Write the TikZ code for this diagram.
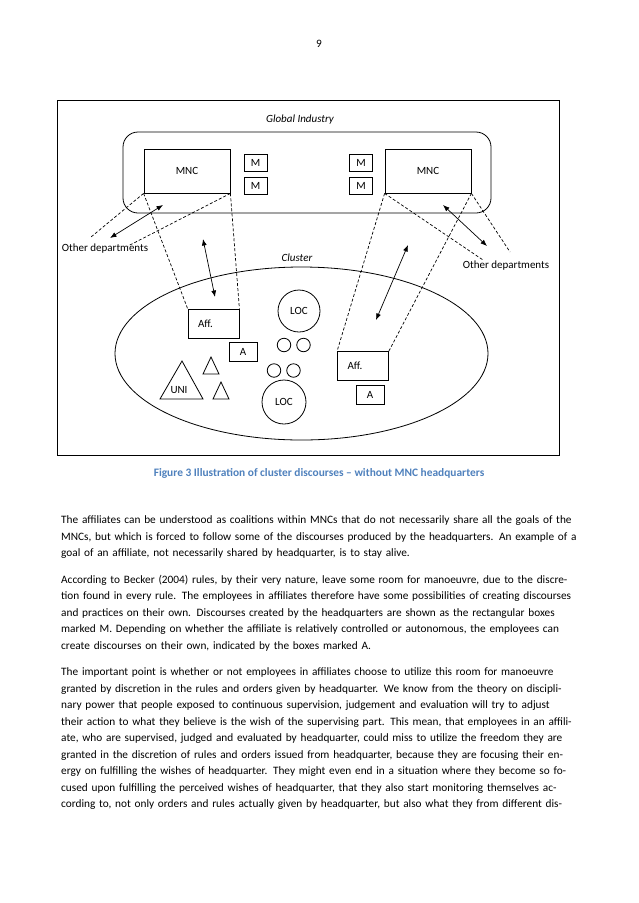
\documentclass[tikz,border=0pt]{standalone}
\usepackage{fontspec}
\setmainfont{Carlito}
\usetikzlibrary{arrows.meta}
\definecolor{captionblue}{HTML}{4F81BD}
\newcommand{\fullline}[1]{\par\hbox to 517pt{#1}}
\newcommand{\lastline}[1]{\par\hbox{#1}}

\begin{document}
\begin{tikzpicture}[x=1pt,y=-1pt,
lbl/.style={font=\fontsize{11}{13}\selectfont,inner sep=1pt},
box/.style={draw,line width=0.8pt,inner sep=0pt,font=\fontsize{11}{13}\selectfont},
mnc/.style={box,minimum width=86pt,minimum height=44pt},
mbox/.style={box,minimum width=23pt,minimum height=17pt},
abox/.style={box,minimum width=28pt,minimum height=19pt},
affbox/.style={box,minimum height=29pt,text width=31pt,inner xsep=10pt,align=left},
loc/.style={box,circle},
dashline/.style={dash pattern=on 3pt off 2pt,line width=0.7pt},
arrow/.style={{Latex[length=6.5pt,width=5pt]}-{Latex[length=6.5pt,width=5pt]},line width=0.7pt},
para/.style={anchor=base west,inner sep=0pt,text width=517pt,font=\fontsize{11.3}{16.5}\selectfont}
]
\useasboundingbox (0,0) rectangle (638,903);
\fill[white] (0,0) rectangle (638,903);

\node[font=\fontsize{11.3}{14}\selectfont] (pagenum) at (319,44) {9};

% frame and the two areas
\draw[line width=1pt] (57,100) rectangle (559,455);
\node[draw,line width=0.8pt,rounded corners=15pt,minimum width=368pt,minimum height=81pt] (industry) at (307,172.5) {};
\node[lbl,font=\fontsize{11}{13}\selectfont\itshape] (industrylbl) at (300,120) {Global Industry};
\draw[line width=0.8pt] (301.5,353.5) ellipse [x radius=186.5pt,y radius=86.5pt];
\node[lbl,font=\fontsize{11}{13}\selectfont\itshape] (clusterlbl) at (297,258) {Cluster};

% headquarters
\node[mnc] (mncL) at (187,171) {MNC};
\node[mnc] (mncR) at (428,171) {MNC};
\node[mbox] (mL1) at (255.5,162.5) {M};
\node[mbox] (mL2) at (255.5,185.5) {M};
\node[mbox] (mR1) at (361,162.5) {M};
\node[mbox] (mR2) at (361,185.5) {M};

\node[lbl] (otherL) at (105,249) {Other departments};
\node[lbl] (otherR) at (506,266) {Other departments};

% cluster content
\node[affbox] (affL) at (213.5,323.5) {Aff.};
\node[affbox] (affR) at (363,366) {Aff.};
\node[abox] (aL) at (243,351.5) {A};
\node[abox] (aR) at (370,395) {A};

\node[loc,minimum size=42pt] (locA) at (299,311) {LOC};
\node[loc,minimum size=44pt] (locB) at (284,402) {LOC};
\node[loc,minimum size=13.5pt] (s1) at (284,345) {};
\node[loc,minimum size=13.5pt] (s2) at (303.5,345) {};
\node[loc,minimum size=13.5pt] (s3) at (274,370.5) {};
\node[loc,minimum size=13.5pt] (s4) at (293.5,370.5) {};

\draw[line width=0.8pt] (182,361) -- (203,399) -- (160,399) -- cycle;
\node[lbl] (uni) at (179,390) {UNI};
\draw[line width=0.8pt] (211,357) -- (219,374) -- (203,374) -- cycle;
\draw[line width=0.8pt] (221,382) -- (229,399) -- (213,399) -- cycle;

% loose ends
\coordinate (depLa) at (91,237);
\coordinate (depLb) at (128,246);
\coordinate (depRa) at (483,260);
\coordinate (depRb) at (510,252);
\coordinate (a1) at (163,205);
\coordinate (a2) at (110,238);
\coordinate (a3) at (203,239);
\coordinate (a4) at (215,297);
\coordinate (b1) at (443,205);
\coordinate (b2) at (487,246);
\coordinate (b3) at (408,245);
\coordinate (b4) at (376,320);

\draw[dashline] (mncL.south west) -- (depLa);
\draw[dashline] (mncL.south east) -- (depLb);
\draw[dashline] (mncL.south west) -- (affL.north west);
\draw[dashline] (mncL.south east) -- (affL.north east);
\draw[dashline] (mncR.south west) -- (depRa);
\draw[dashline] (mncR.south east) -- (depRb);
\draw[dashline] (mncR.south west) -- (affR.north west);
\draw[dashline] (mncR.south east) -- (affR.north east);

\draw[arrow] (a1) -- (a2);
\draw[arrow] (a3) -- (a4);
\draw[arrow] (b1) -- (b2);
\draw[arrow] (b3) -- (b4);

% caption and text
\node[font=\fontsize{11.4}{13}\selectfont\bfseries,text=captionblue] (caption) at (319,473) {Figure 3 Illustration of cluster discourses – without MNC headquarters};

\node[para] (p1) at (61,507) {%
\fullline{The affiliates can be understood as coalitions within MNCs that do not necessarily share all the goals of the}
\fullline{MNCs, but which is forced to follow some of the discourses produced by the headquarters. An example of a}
\lastline{goal of an affiliate, not necessarily shared by headquarter, is to stay alive.}};

\node[para] (p2) at (61,566.5) {%
\fullline{According to Becker (2004) rules, by their very nature, leave some room for manoeuvre, due to the discre-}
\fullline{tion found in every rule. The employees in affiliates therefore have some possibilities of creating discourses}
\fullline{and practices on their own. Discourses created by the headquarters are shown as the rectangular boxes}
\fullline{marked M. Depending on whether the affiliate is relatively controlled or autonomous, the employees can}
\lastline{create discourses on their own, indicated by the boxes marked A.}};

\node[para] (p3) at (61,659) {%
\fullline{The important point is whether or not employees in affiliates choose to utilize this room for manoeuvre}
\fullline{granted by discretion in the rules and orders given by headquarter. We know from the theory on discipli-}
\fullline{nary power that people exposed to continuous supervision, judgement and evaluation will try to adjust}
\fullline{their action to what they believe is the wish of the supervising part. This mean, that employees in an affili-}
\fullline{ate, who are supervised, judged and evaluated by headquarter, could miss to utilize the freedom they are}
\fullline{granted in the discretion of rules and orders issued from headquarter, because they are focusing their en-}
\fullline{ergy on fulfilling the wishes of headquarter. They might even end in a situation where they become so fo-}
\fullline{cused upon fulfilling the perceived wishes of headquarter, that they also start monitoring themselves ac-}
\fullline{cording to, not only orders and rules actually given by headquarter, but also what they from different dis-}};

\end{tikzpicture}
\end{document}
